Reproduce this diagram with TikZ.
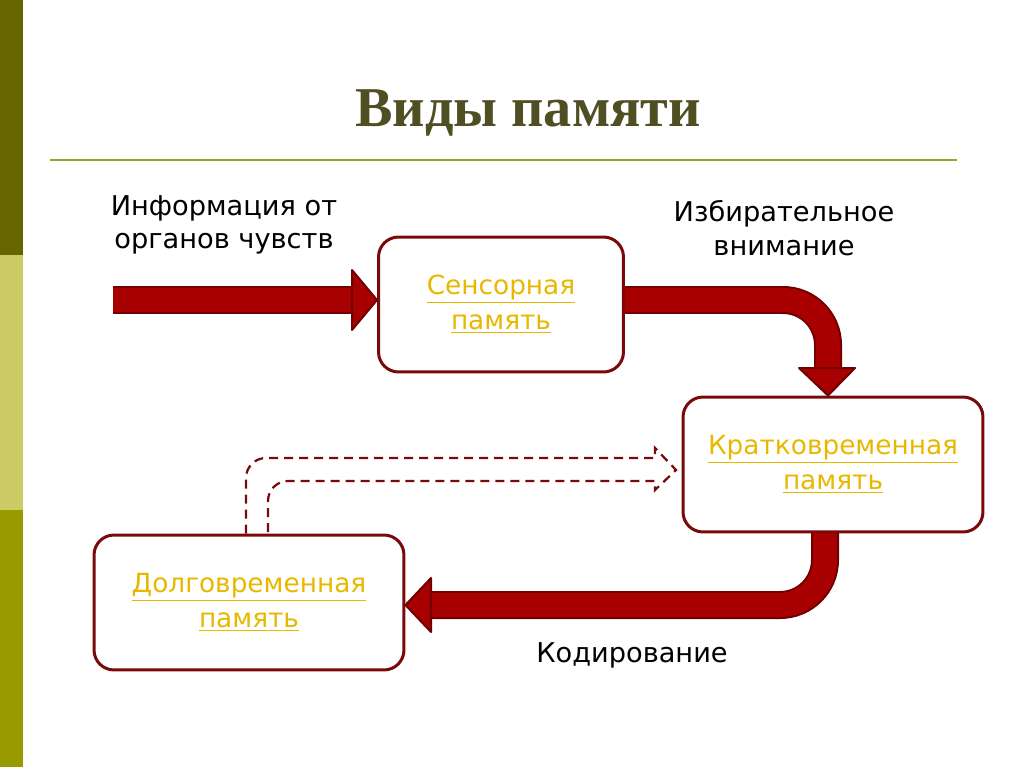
\documentclass[tikz,border=0pt]{standalone}
\usepackage{fontspec}
\setmainfont{DejaVu Sans}
\newfontfamily\titlefont{Liberation Serif}
\usetikzlibrary{positioning,backgrounds}
\definecolor{barDark}{HTML}{666600}
\definecolor{barLight}{HTML}{CCCC66}
\definecolor{barMid}{HTML}{999900}
\definecolor{titleCol}{HTML}{4F4F23}
\definecolor{rule}{HTML}{A0A030}
\definecolor{boxEdge}{HTML}{7A0A0A}
\definecolor{arrowFill}{HTML}{A80000}
\definecolor{arrowEdge}{HTML}{700000}
\definecolor{gold}{HTML}{E8B800}
\tikzset{memory box/.style={draw=boxEdge,line width=0.06cm,rounded corners=0.4cm,fill=white,
  minimum width=4.9cm,minimum height=2.7cm,align=center,text=gold,font=\fontsize{15}{20}\selectfont},
caption/.style={align=center,font=\fontsize{15.5}{19}\selectfont},
shaft edge/.style={line width=0.56cm,arrowEdge},
shaft/.style={line width=0.48cm,arrowFill},
head/.style={fill=arrowFill,draw=arrowEdge,line width=0.04cm,line join=round}}
\newcommand{\uline}[1]{\underline{#1}}
\begin{document}
\begin{tikzpicture}[x=0.02cm,y=-0.02cm]
\useasboundingbox (0,0) rectangle (1024,767);
%% side bar
\fill[barDark] (0,0) rectangle (23,255);
\fill[barLight] (0,255) rectangle (23,510);
\fill[barMid] (0,510) rectangle (23,767);

%% title
\node (title) at (528,113) {\titlefont\bfseries\color{titleCol}\fontsize{32}{36}\selectfont Виды памяти};
\draw[rule,line width=0.04cm] (50,160) -- (957,160);

%% boxes
\node[memory box] (sens) at (501,304.5) {\uline{Сенсорная}\\\uline{память}};
\node[memory box,minimum width=6.0cm] (short) at (833,464.5) {\uline{Кратковременная}\\\uline{память}};
\node[memory box,minimum width=6.2cm] (long) at (249,602.5) {\uline{Долговременная}\\\uline{память}};

%% captions
\node[caption] (info) at (224,225) {Информация от\\органов чувств};
\node[caption] (attn) at (784,228) {Избирательное\\внимание};
\node[caption] (code) at (632,655) {Кодирование};

%% coordinates for thick arrows
\coordinate (src) at (113,300);
\coordinate (h1) at (352,300);
\coordinate (h2) at (828,370);
\coordinate (h3) at (430,605);

%% input arrow
\draw[shaft edge] (src) -- (h1);
\draw[shaft] (src) -- (h1);
\draw[head] (352,270) -- (sens.west |- h1) -- (352,330) -- cycle;

\begin{scope}[on background layer]
%% sensory -> short term
\draw[shaft edge,rounded corners=0.9cm] ([xshift=-10]sens.east |- h1) -- (828,300) -- (h2);
\draw[shaft,rounded corners=0.9cm] ([xshift=-10]sens.east |- h1) -- (828,300) -- (h2);
%% short term -> long term
\draw[shaft edge,rounded corners=0.9cm] ([yshift=10]short.south -| 825,0) -- (825,605) -- (h3);
\draw[shaft,rounded corners=0.9cm] ([yshift=10]short.south -| 825,0) -- (825,605) -- (h3);
%% retrieval (dashed hollow arrow)
\draw[boxEdge,line width=0.045cm,dash pattern=on 0.18cm off 0.12cm]
  (long.north -| 246,0) -- (246,478) arc[start angle=180,end angle=270,radius=20] -- (655,458)
  [sharp corners] -- (655,448) -- (676,470) -- (655,490) -- (655,481) -- (288,481)
  arc[start angle=270,end angle=180,radius=20] -- (long.north -| 268,0);
\end{scope}
\draw[head] (799,368) -- (855,368) -- (short.north -| h2) -- cycle;
\draw[head] (431,578) -- (431,632) -- (long.east |- h3) -- cycle;
\end{tikzpicture}
\end{document}
